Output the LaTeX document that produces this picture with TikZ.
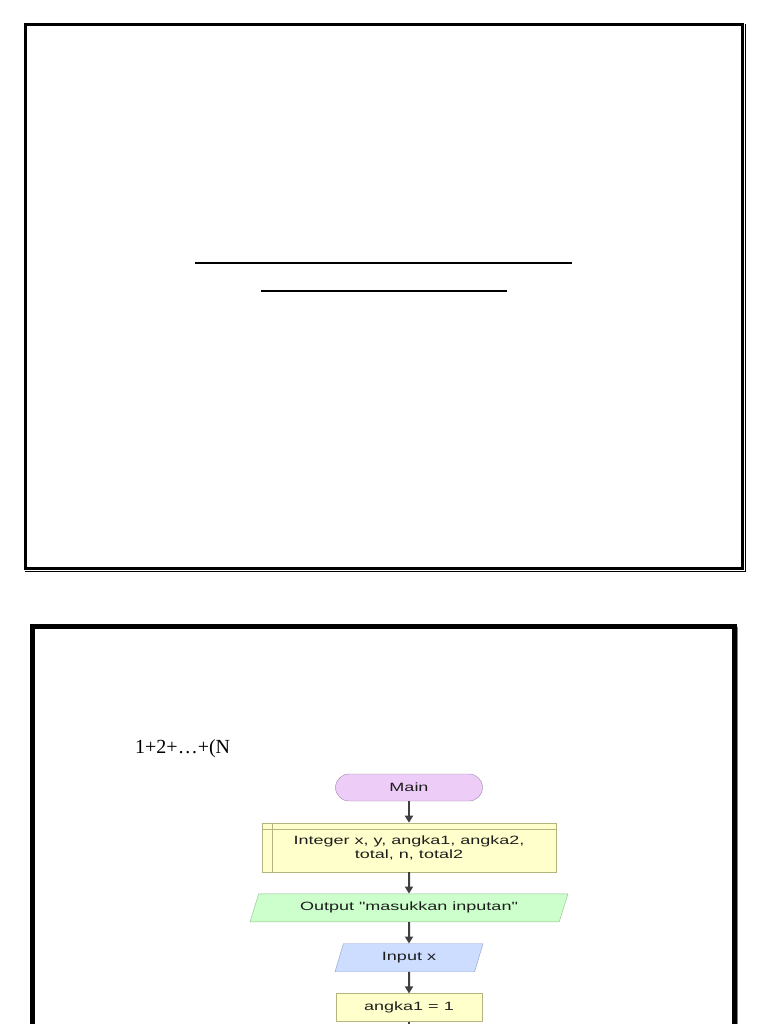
\documentclass[tikz,border=0pt]{standalone}
\usepackage{fontspec}
\setmainfont{Liberation Serif}
\newfontfamily\chartfont{Liberation Sans}[FakeStretch=1.5]
\usetikzlibrary{positioning,shapes.geometric,arrows.meta}

\definecolor{termfill}{HTML}{EDCCF7}
\definecolor{termline}{HTML}{9C86A8}
\definecolor{declfill}{HTML}{FFFFCC}
\definecolor{declline}{HTML}{B4B47E}
\definecolor{outfill}{HTML}{CCFFCC}
\definecolor{outln}{HTML}{8CBF8C}
\definecolor{infill}{HTML}{CCDDFF}
\definecolor{inln}{HTML}{8C9CC8}
\definecolor{arrowgray}{HTML}{404040}
\definecolor{chartink}{HTML}{1E1E1E}

\begin{document}
\begin{tikzpicture}[x=1pt, y=-1pt, node distance=21.5pt,
  every node/.style={font=\chartfont\fontsize{12}{12}\selectfont, text=chartink, inner sep=0pt},
  term/.style={rectangle, rounded corners=13.5pt, draw=termline, fill=termfill, minimum width=147pt, minimum height=27pt},
  decl/.style={rectangle, draw=declline, fill=declfill, minimum width=294pt, minimum height=49pt, align=center},
  io/.style={trapezium, trapezium left angle=52, trapezium right angle=128, trapezium stretches body, minimum height=28pt},
  proc/.style={rectangle, draw=declline, fill=declfill, minimum width=146pt, minimum height=28pt},
  ar/.style={draw=arrowgray, line width=2pt, -{Triangle[width=8pt,length=7pt]}}]
  \useasboundingbox (0,0) rectangle (768,1024);

  % first page frame with the two title lines
  \draw[line width=3pt] (25.5,24.5) rectangle (742,568);
  \draw[line width=0.8pt] (745,24) -- (745,571) -- (25,571);
  \draw[line width=2.5pt] (195,263) -- (572,263);
  \draw[line width=2pt] (261,291) -- (507,291);

  % second page frame
  \draw[line width=5pt] (32.5,1030) -- (32.5,626.5) -- (734,626.5) -- (734,1030);
  \draw[gray, line width=0.8pt] (737.5,627) -- (737.5,1030);

  \node[anchor=base west, font=\rmfamily\fontsize{20}{21}\selectfont, text=black] (sum) at (135,753) {1+2+…+(N};

  \node[term] (main) at (409,787.5) {Main};
  \node[decl, below=of main] (vars) {\raisebox{-3pt}[20pt][3pt]{\shortstack{Integer x, y, angka1, angka2,\\total, n, total2}}};
  \draw[declline, line width=0.8pt] ([yshift=-7pt]vars.north west) -- ([yshift=-7pt]vars.north east);
  \draw[declline, line width=0.8pt] ([xshift=11pt]vars.north west) -- ([xshift=11pt]vars.south west);
  \node[io, draw=outln, fill=outfill, minimum width=318pt, below=of vars] (outp) {Output "masukkan inputan"};
  \node[io, draw=inln, fill=infill, minimum width=148pt, below=of outp] (inp) {Input x};
  \node[proc, below=of inp] (init) {angka1 = 1};
  \coordinate (cut) at (409,1026);

  \draw[ar] (main) -- (vars);
  \draw[ar] (vars) -- (outp);
  \draw[ar] (outp) -- (inp);
  \draw[ar] (inp) -- (init);
  \draw[draw=arrowgray, line width=2pt] (init) -- (cut);
\end{tikzpicture}
\end{document}
